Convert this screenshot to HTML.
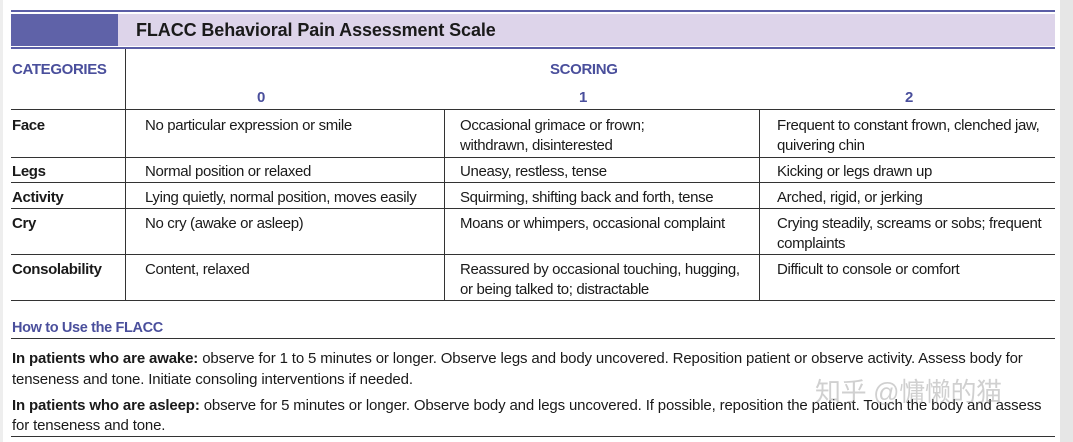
<!DOCTYPE html>
<html><head><style>
body{margin:0;width:1073px;height:442px;background:#fff;position:relative;overflow:hidden;font-family:"Liberation Sans",sans-serif;color:#1a1a1a}
.t{position:absolute;font-size:15px;letter-spacing:-0.35px;white-space:nowrap;line-height:20px;margin-top:2px}
.b{font-weight:bold}
.p{color:#4a4f9c;font-weight:bold}
.q{letter-spacing:-0.15px}
.h{position:absolute;height:1px;background:#333}
.v{position:absolute;width:1px;background:#333}
</style></head><body>
<div style="position:absolute;left:1060px;top:0;width:13px;height:442px;background:#e6e6e6"></div>
<div style="position:absolute;left:0;top:0;width:3px;height:442px;background:#eee"></div>
<div class="h" style="left:11px;width:1044px;top:10px;height:2px;background:#5b5ea6"></div>
<div style="position:absolute;left:11px;top:14px;width:107px;height:32px;background:#5f62a8"></div>
<div style="position:absolute;left:118px;top:14px;width:937px;height:32px;background:#ddd4ea"></div>
<div class="t b" style="left:136px;top:18px;font-size:18px;letter-spacing:-0.1px">FLACC Behavioral Pain Assessment Scale</div>
<div class="h" style="left:11px;width:1044px;top:47px;height:2px;background:#5b5ea6"></div>
<div class="v" style="left:125px;top:49px;height:251px"></div>
<div class="v" style="left:444px;top:110px;height:190px"></div>
<div class="v" style="left:759px;top:110px;height:190px"></div>
<div class="t p" style="left:12px;top:58px">CATEGORIES</div>
<div class="t p" style="left:550px;top:58px">SCORING</div>
<div class="t p" style="left:257px;top:86px">0</div>
<div class="t p" style="left:579px;top:86px">1</div>
<div class="t p" style="left:905px;top:86px">2</div>
<div class="h" style="left:11px;width:1044px;top:109px"></div>
<div class="h" style="left:11px;width:1044px;top:157px"></div>
<div class="h" style="left:11px;width:1044px;top:182px"></div>
<div class="h" style="left:11px;width:1044px;top:208px"></div>
<div class="h" style="left:11px;width:1044px;top:254px"></div>
<div class="h" style="left:11px;width:1044px;top:300px"></div>
<div class="t b" style="left:12px;top:114px">Face</div>
<div class="t" style="left:145px;top:114px">No particular expression or smile</div>
<div class="t" style="left:460px;top:114px">Occasional grimace or frown;<br>withdrawn, disinterested</div>
<div class="t" style="left:777px;top:114px">Frequent to constant frown, clenched jaw,<br>quivering chin</div>
<div class="t b" style="left:12px;top:160px">Legs</div>
<div class="t" style="left:145px;top:160px">Normal position or relaxed</div>
<div class="t" style="left:460px;top:160px">Uneasy, restless, tense</div>
<div class="t" style="left:777px;top:160px">Kicking or legs drawn up</div>
<div class="t b" style="left:12px;top:186px">Activity</div>
<div class="t" style="left:145px;top:186px">Lying quietly, normal position, moves easily</div>
<div class="t" style="left:460px;top:186px">Squirming, shifting back and forth, tense</div>
<div class="t" style="left:777px;top:186px">Arched, rigid, or jerking</div>
<div class="t b" style="left:12px;top:212px">Cry</div>
<div class="t" style="left:145px;top:212px">No cry (awake or asleep)</div>
<div class="t" style="left:460px;top:212px">Moans or whimpers, occasional complaint</div>
<div class="t" style="left:777px;top:212px">Crying steadily, screams or sobs; frequent<br>complaints</div>
<div class="t b" style="left:12px;top:258px">Consolability</div>
<div class="t" style="left:145px;top:258px">Content, relaxed</div>
<div class="t" style="left:460px;top:258px">Reassured by occasional touching, hugging,<br>or being talked to; distractable</div>
<div class="t" style="left:777px;top:258px">Difficult to console or comfort</div>
<div class="t p" style="left:12px;top:316px;font-size:14.5px">How to Use the FLACC</div>
<div class="h" style="left:11px;width:1044px;top:338px"></div>
<div class="t q" style="left:12px;top:347px"><b>In patients who are awake:</b> observe for 1 to 5 minutes or longer. Observe legs and body uncovered. Reposition patient or observe activity. Assess body for</div>
<div class="t q" style="left:12px;top:368px">tenseness and tone. Initiate consoling interventions if needed.</div>
<div class="t q" style="left:12px;top:394px"><b>In patients who are asleep:</b> observe for 5 minutes or longer. Observe body and legs uncovered. If possible, reposition the patient. Touch the body and assess</div>
<div class="t q" style="left:12px;top:414px">for tenseness and tone.</div>
<div class="t" style="left:815px;top:380px;font-size:26px;color:rgba(150,150,150,0.45);font-family:'Liberation Sans','Noto Sans CJK SC',sans-serif">知乎 @慵懒的猫</div>
<div class="h" style="left:11px;width:1044px;top:436px"></div>
</body></html>
